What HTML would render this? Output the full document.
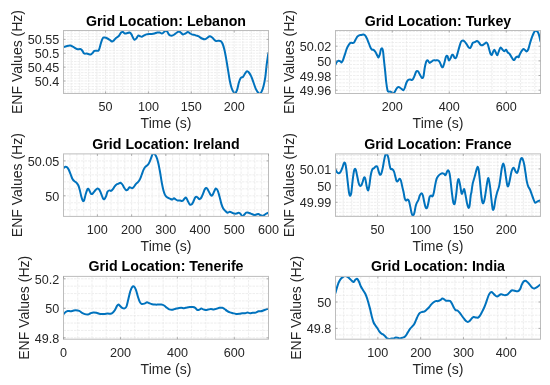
<!DOCTYPE html><html><head><meta charset="utf-8"><style>html,body{margin:0;padding:0;background:#fff;}svg{display:block;}text{font-family:"Liberation Sans",Arial,Helvetica,sans-serif;}</style></head><body>
<svg width="550" height="385" viewBox="0 0 550 385">
<rect width="550" height="385" fill="#fff"/>
<path d="M71.22 30.5V93.5M79.8 30.5V93.5M88.37 30.5V93.5M96.95 30.5V93.5M105.53 30.5V93.5M114.11 30.5V93.5M122.68 30.5V93.5M131.26 30.5V93.5M139.84 30.5V93.5M148.42 30.5V93.5M156.99 30.5V93.5M165.57 30.5V93.5M174.15 30.5V93.5M182.73 30.5V93.5M191.3 30.5V93.5M199.88 30.5V93.5M208.46 30.5V93.5M217.04 30.5V93.5M225.61 30.5V93.5M234.19 30.5V93.5M242.77 30.5V93.5M251.35 30.5V93.5M259.92 30.5V93.5M63.5 92.11H268.5M63.5 89.33H268.5M63.5 86.55H268.5M63.5 83.78H268.5M63.5 81H268.5M63.5 78.22H268.5M63.5 75.45H268.5M63.5 72.67H268.5M63.5 69.89H268.5M63.5 67.12H268.5M63.5 64.34H268.5M63.5 61.56H268.5M63.5 58.79H268.5M63.5 56.01H268.5M63.5 53.23H268.5M63.5 50.46H268.5M63.5 47.68H268.5M63.5 44.9H268.5M63.5 42.13H268.5M63.5 39.35H268.5M63.5 36.57H268.5M63.5 33.8H268.5M63.5 31.02H268.5" stroke="#e6e6e6" stroke-width="0.7" stroke-dasharray="2.5 1" fill="none"/>
<clipPath id="c0"><rect x="63.5" y="30.5" width="205.0" height="63.0"/></clipPath>
<path d="M63.8 47.1C64.25 46.95 65.43 46.45 66.5 46.2C67.57 45.95 69.13 45.52 70.2 45.6C71.27 45.68 72 46.23 72.9 46.7C73.8 47.17 74.83 47.97 75.6 48.4C76.37 48.83 76.73 49.18 77.5 49.3C78.27 49.42 79.45 48.95 80.2 49.1C80.95 49.25 81.33 49.47 82 50.2C82.67 50.93 83.45 52.95 84.2 53.5C84.95 54.05 85.8 53.42 86.5 53.5C87.2 53.58 87.7 53.85 88.4 54C89.1 54.15 90.02 54.55 90.7 54.4C91.38 54.25 91.88 53.68 92.5 53.1C93.12 52.52 93.73 51.3 94.4 50.9C95.07 50.5 95.83 50.73 96.5 50.7C97.17 50.67 97.88 51.15 98.4 50.7C98.92 50.25 99.15 49.37 99.6 48C100.05 46.63 100.55 44.17 101.1 42.5C101.65 40.83 102.3 38.82 102.9 38C103.5 37.18 103.93 37.52 104.7 37.6C105.47 37.68 106.68 38.13 107.5 38.5C108.32 38.87 108.85 39.28 109.6 39.8C110.35 40.32 111.3 41.5 112 41.6C112.7 41.7 113.2 40.93 113.8 40.4C114.4 39.87 114.98 38.95 115.6 38.4C116.22 37.85 116.88 37.62 117.5 37.1C118.12 36.58 118.7 36.07 119.3 35.3C119.9 34.53 120.5 33.05 121.1 32.5C121.7 31.95 122.3 31.83 122.9 32C123.5 32.17 123.93 33.32 124.7 33.5C125.47 33.68 126.68 33.27 127.5 33.1C128.32 32.93 128.93 32.28 129.6 32.5C130.27 32.72 130.98 33.63 131.5 34.4C132.02 35.17 132.2 36.2 132.7 37.1C133.2 38 133.88 39.58 134.5 39.8C135.12 40.02 135.78 39.1 136.4 38.4C137.02 37.7 137.6 35.97 138.2 35.6C138.8 35.23 139.4 36.02 140 36.2C140.6 36.38 141.2 36.8 141.8 36.7C142.4 36.6 142.83 35.98 143.6 35.6C144.37 35.22 145.48 34.67 146.4 34.4C147.32 34.13 148.2 34.07 149.1 34C150 33.93 150.9 34.08 151.8 34C152.7 33.92 153.58 33.75 154.5 33.5C155.42 33.25 156.45 32.67 157.3 32.5C158.15 32.33 158.85 32.33 159.6 32.5C160.35 32.67 161.13 33.5 161.8 33.5C162.47 33.5 162.98 32.97 163.6 32.5C164.22 32.03 164.88 30.85 165.5 30.7C166.12 30.55 166.8 31.08 167.3 31.6C167.8 32.12 168.05 33.18 168.5 33.8C168.95 34.42 169.38 35 170 35.3C170.62 35.6 171.45 35.75 172.2 35.6C172.95 35.45 173.72 34.92 174.5 34.4C175.28 33.88 176.13 32.97 176.9 32.5C177.67 32.03 178.37 31.5 179.1 31.6C179.83 31.7 180.63 32.63 181.3 33.1C181.97 33.57 182.4 34.33 183.1 34.4C183.8 34.47 184.72 33.9 185.5 33.5C186.28 33.1 187.12 32.07 187.8 32C188.48 31.93 188.93 32.7 189.6 33.1C190.27 33.5 190.98 34.1 191.8 34.4C192.62 34.7 193.73 34.7 194.5 34.9C195.27 35.1 195.78 35.38 196.4 35.6C197.02 35.82 197.63 35.95 198.2 36.2C198.77 36.45 199.17 36.72 199.8 37.1C200.43 37.48 201.15 38.13 202 38.5C202.85 38.87 204.05 39.38 204.9 39.3C205.75 39.22 206.28 38.52 207.1 38C207.92 37.48 208.95 36.28 209.8 36.2C210.65 36.12 211.43 36.9 212.2 37.5C212.97 38.1 213.73 39.2 214.4 39.8C215.07 40.4 215.53 40.95 216.2 41.1C216.87 41.25 217.65 40.7 218.4 40.7C219.15 40.7 220.02 40.63 220.7 41.1C221.38 41.57 221.88 42.05 222.5 43.5C223.12 44.95 223.78 47.23 224.4 49.8C225.02 52.37 225.6 55.57 226.2 58.9C226.8 62.23 227.4 66.17 228 69.8C228.6 73.43 229.2 77.67 229.8 80.7C230.4 83.73 230.98 86.12 231.6 88C232.22 89.88 232.88 91.18 233.5 92C234.12 92.82 234.7 93.27 235.3 92.9C235.9 92.53 236.5 91.53 237.1 89.8C237.7 88.07 238.3 84.47 238.9 82.5C239.5 80.53 240 78.97 240.7 78C241.4 77.03 242.33 77.52 243.1 76.7C243.87 75.88 244.63 74 245.3 73.1C245.97 72.2 246.5 71.4 247.1 71.3C247.7 71.2 248.23 71.68 248.9 72.5C249.57 73.32 250.33 74.53 251.1 76.2C251.87 77.87 252.72 80.38 253.5 82.5C254.28 84.62 255.05 87.23 255.8 88.9C256.55 90.57 257.33 91.68 258 92.5C258.67 93.32 259.2 93.95 259.8 93.8C260.4 93.65 260.98 92.87 261.6 91.6C262.22 90.33 262.88 88.62 263.5 86.2C264.12 83.78 264.77 80.73 265.3 77.1C265.83 73.47 266.18 68.42 266.7 64.4C267.22 60.38 268.12 54.9 268.4 53" stroke="#0072bd" stroke-width="2.0" fill="none" stroke-linejoin="round" stroke-linecap="round" clip-path="url(#c0)"/>
<rect x="63.5" y="30.5" width="205.0" height="63.0" fill="none" stroke="#bdbdbd" stroke-width="1"/>
<path d="M105.53 93.5v-2M105.53 30.5v2M148.42 93.5v-2M148.42 30.5v2M191.3 93.5v-2M191.3 30.5v2M234.19 93.5v-2M234.19 30.5v2M63.5 81h2M268.5 81h-2M63.5 67.12h2M268.5 67.12h-2M63.5 53.23h2M268.5 53.23h-2M63.5 39.35h2M268.5 39.35h-2" stroke="#9a9a9a" stroke-width="0.8" fill="none"/>
<text x="105.53" y="110.8" font-size="12.6" fill="#262626" text-anchor="middle">50</text>
<text x="148.42" y="110.8" font-size="12.6" fill="#262626" text-anchor="middle">100</text>
<text x="191.3" y="110.8" font-size="12.6" fill="#262626" text-anchor="middle">150</text>
<text x="234.19" y="110.8" font-size="12.6" fill="#262626" text-anchor="middle">200</text>
<text x="59.2" y="86.05" font-size="12.6" fill="#262626" text-anchor="end">50.4</text>
<text x="59.2" y="72.17" font-size="12.6" fill="#262626" text-anchor="end">50.45</text>
<text x="59.2" y="58.28" font-size="12.6" fill="#262626" text-anchor="end">50.5</text>
<text x="59.2" y="44.4" font-size="12.6" fill="#262626" text-anchor="end">50.55</text>
<text x="166" y="25.55" font-size="14.2" font-weight="bold" fill="#000" text-anchor="middle">Grid Location: Lebanon</text>
<text x="166" y="128.4" font-size="14.0" fill="#262626" text-anchor="middle">Time (s)</text>
<text transform="translate(21.6,62) rotate(-90)" x="0" y="0" font-size="14.0" fill="#262626" text-anchor="middle">ENF Values (Hz)</text>
<path d="M349.47 30.5V93.5M363.73 30.5V93.5M377.98 30.5V93.5M392.24 30.5V93.5M406.49 30.5V93.5M420.75 30.5V93.5M435.01 30.5V93.5M449.26 30.5V93.5M463.52 30.5V93.5M477.77 30.5V93.5M492.03 30.5V93.5M506.29 30.5V93.5M520.54 30.5V93.5M534.8 30.5V93.5M335.5 90.2H540.5M335.5 86.53H540.5M335.5 82.87H540.5M335.5 79.2H540.5M335.5 75.53H540.5M335.5 71.87H540.5M335.5 68.2H540.5M335.5 64.53H540.5M335.5 60.87H540.5M335.5 57.2H540.5M335.5 53.53H540.5M335.5 49.87H540.5M335.5 46.2H540.5M335.5 42.53H540.5M335.5 38.87H540.5M335.5 35.2H540.5M335.5 31.53H540.5" stroke="#e6e6e6" stroke-width="0.7" stroke-dasharray="2.5 1" fill="none"/>
<clipPath id="c1"><rect x="335.5" y="30.5" width="205.0" height="63.0"/></clipPath>
<path d="M335.5 64.4C335.7 64.03 336.2 62.82 336.7 62.2C337.2 61.58 337.88 60.85 338.5 60.7C339.12 60.55 339.88 61 340.4 61.3C340.92 61.6 341.15 62.75 341.6 62.5C342.05 62.25 342.55 61.15 343.1 59.8C343.65 58.45 344.3 56.22 344.9 54.4C345.5 52.58 346.1 50.42 346.7 48.9C347.3 47.38 347.88 46.3 348.5 45.3C349.12 44.3 349.78 43.3 350.4 42.9C351.02 42.5 351.6 42.97 352.2 42.9C352.8 42.83 353.45 43.02 354 42.5C354.55 41.98 354.95 40.77 355.5 39.8C356.05 38.83 356.7 37.45 357.3 36.7C357.9 35.95 358.43 35.6 359.1 35.3C359.77 35 360.57 35.03 361.3 34.9C362.03 34.77 362.83 34.38 363.5 34.5C364.17 34.62 364.7 34.87 365.3 35.6C365.9 36.33 366.5 37.58 367.1 38.9C367.7 40.22 368.3 41.98 368.9 43.5C369.5 45.02 370.15 46.95 370.7 48C371.25 49.05 371.72 49.5 372.2 49.8C372.68 50.1 373.05 49.43 373.6 49.8C374.15 50.17 374.88 51.03 375.5 52C376.12 52.97 376.8 54.68 377.3 55.6C377.8 56.52 378.08 57.7 378.5 57.5C378.92 57.3 379.4 55.73 379.8 54.4C380.2 53.07 380.5 50.5 380.9 49.5C381.3 48.5 381.83 48.05 382.2 48.4C382.57 48.75 382.8 49.55 383.1 51.6C383.4 53.65 383.65 57.37 384 60.7C384.35 64.03 384.83 68.05 385.2 71.6C385.57 75.15 385.82 78.88 386.2 82C386.58 85.12 387.12 88.7 387.5 90.3C387.88 91.9 388.02 91.38 388.5 91.6C388.98 91.82 389.85 91.45 390.4 91.6C390.95 91.75 391.35 92.13 391.8 92.5C392.25 92.87 392.58 93.95 393.1 93.8C393.62 93.65 394.3 92.5 394.9 91.6C395.5 90.7 396.1 89.15 396.7 88.4C397.3 87.65 397.88 87.17 398.5 87.1C399.12 87.03 399.78 87.6 400.4 88C401.02 88.4 401.68 89.13 402.2 89.5C402.72 89.87 403.08 90.45 403.5 90.2C403.92 89.95 404.2 89.28 404.7 88C405.2 86.72 405.88 83.87 406.5 82.5C407.12 81.13 407.78 80.3 408.4 79.8C409.02 79.3 409.52 79.5 410.2 79.5C410.88 79.5 411.8 80.35 412.5 79.8C413.2 79.25 413.78 77.57 414.4 76.2C415.02 74.83 415.6 72.42 416.2 71.6C416.8 70.78 417.4 70.83 418 71.3C418.6 71.77 419.13 73.28 419.8 74.4C420.47 75.52 421.38 77.7 422 78C422.62 78.3 423.05 77.87 423.5 76.2C423.95 74.53 424.25 70.43 424.7 68C425.15 65.57 425.68 62.87 426.2 61.6C426.72 60.33 427.23 60.18 427.8 60.4C428.37 60.62 428.98 62.7 429.6 62.9C430.22 63.1 430.88 62.02 431.5 61.6C432.12 61.18 432.62 60.6 433.3 60.4C433.98 60.2 434.82 60.4 435.6 60.4C436.38 60.4 437.3 60.1 438 60.4C438.7 60.7 439.2 61.18 439.8 62.2C440.4 63.22 441.08 65.68 441.6 66.5C442.12 67.32 442.47 67.6 442.9 67.1C443.33 66.6 443.68 65.23 444.2 63.5C444.72 61.77 445.45 57.92 446 56.7C446.55 55.48 447.02 55.58 447.5 56.2C447.98 56.82 448.37 60.1 448.9 60.4C449.43 60.7 450.18 58.92 450.7 58C451.22 57.08 451.57 55.35 452 54.9C452.43 54.45 452.85 54.78 453.3 55.3C453.75 55.82 454.22 57.63 454.7 58C455.18 58.37 455.72 58.32 456.2 57.5C456.68 56.68 457.08 54.83 457.6 53.1C458.12 51.37 458.72 49.02 459.3 47.1C459.88 45.18 460.5 42.72 461.1 41.6C461.7 40.48 462.3 40.4 462.9 40.4C463.5 40.4 464.1 41 464.7 41.6C465.3 42.2 465.88 43.08 466.5 44C467.12 44.92 467.78 46.43 468.4 47.1C469.02 47.77 469.68 48.22 470.2 48C470.72 47.78 471.08 46.65 471.5 45.8C471.92 44.95 472.2 43.5 472.7 42.9C473.2 42.3 473.8 42.5 474.5 42.2C475.2 41.9 476.2 41.1 476.9 41.1C477.6 41.1 478.1 41.6 478.7 42.2C479.3 42.8 479.88 44.18 480.5 44.7C481.12 45.22 481.78 45.42 482.4 45.3C483.02 45.18 483.53 44.47 484.2 44C484.87 43.53 485.8 42.43 486.4 42.5C487 42.57 487.35 43.33 487.8 44.4C488.25 45.47 488.67 47.38 489.1 48.9C489.53 50.42 489.95 52.5 490.4 53.5C490.85 54.5 491.32 55.27 491.8 54.9C492.28 54.53 492.85 52.15 493.3 51.3C493.75 50.45 494.08 49.6 494.5 49.8C494.92 50 495.33 51.58 495.8 52.5C496.27 53.42 496.82 55.45 497.3 55.3C497.78 55.15 498.17 52.88 498.7 51.6C499.23 50.32 499.88 47.95 500.5 47.6C501.12 47.25 501.78 48.88 502.4 49.5C503.02 50.12 503.6 51.25 504.2 51.3C504.8 51.35 505.4 49.6 506 49.8C506.6 50 507.2 51.83 507.8 52.5C508.4 53.17 508.98 53.03 509.6 53.8C510.22 54.57 510.88 56.1 511.5 57.1C512.12 58.1 512.8 59.35 513.3 59.8C513.8 60.25 514.08 60.18 514.5 59.8C514.92 59.42 515.33 58.07 515.8 57.5C516.27 56.93 516.82 56.43 517.3 56.4C517.78 56.37 518.4 57.38 518.7 57.3C519 57.22 518.73 56.73 519.1 55.9C519.47 55.07 520.22 53.43 520.9 52.3C521.58 51.17 522.52 49.48 523.2 49.1C523.88 48.72 524.47 49.62 525 50C525.53 50.38 525.87 51.48 526.4 51.4C526.93 51.32 527.6 50.87 528.2 49.5C528.8 48.13 529.4 45.17 530 43.2C530.6 41.23 531.2 39.37 531.8 37.7C532.4 36.03 533.03 34.33 533.6 33.2C534.17 32.07 534.67 31.23 535.2 30.9C535.73 30.57 536.3 30.9 536.8 31.2C537.3 31.5 537.77 31.83 538.2 32.7C538.63 33.57 539.02 34.95 539.4 36.4C539.78 37.85 540.32 40.57 540.5 41.4" stroke="#0072bd" stroke-width="2.0" fill="none" stroke-linejoin="round" stroke-linecap="round" clip-path="url(#c1)"/>
<rect x="335.5" y="30.5" width="205.0" height="63.0" fill="none" stroke="#bdbdbd" stroke-width="1"/>
<path d="M392.24 93.5v-2M392.24 30.5v2M449.26 93.5v-2M449.26 30.5v2M506.29 93.5v-2M506.29 30.5v2M335.5 90.2h2M540.5 90.2h-2M335.5 75.53h2M540.5 75.53h-2M335.5 60.87h2M540.5 60.87h-2M335.5 46.2h2M540.5 46.2h-2" stroke="#9a9a9a" stroke-width="0.8" fill="none"/>
<text x="392.24" y="110.8" font-size="12.6" fill="#262626" text-anchor="middle">200</text>
<text x="449.26" y="110.8" font-size="12.6" fill="#262626" text-anchor="middle">400</text>
<text x="506.29" y="110.8" font-size="12.6" fill="#262626" text-anchor="middle">600</text>
<text x="331.2" y="95.25" font-size="12.6" fill="#262626" text-anchor="end">49.96</text>
<text x="331.2" y="80.58" font-size="12.6" fill="#262626" text-anchor="end">49.98</text>
<text x="331.2" y="65.92" font-size="12.6" fill="#262626" text-anchor="end">50</text>
<text x="331.2" y="51.25" font-size="12.6" fill="#262626" text-anchor="end">50.02</text>
<text x="438" y="25.55" font-size="14.2" font-weight="bold" fill="#000" text-anchor="middle">Grid Location: Turkey</text>
<text x="438" y="128.4" font-size="14.0" fill="#262626" text-anchor="middle">Time (s)</text>
<text transform="translate(293.6,62) rotate(-90)" x="0" y="0" font-size="14.0" fill="#262626" text-anchor="middle">ENF Values (Hz)</text>
<path d="M70 153.9V216.4M76.85 153.9V216.4M83.69 153.9V216.4M90.54 153.9V216.4M97.38 153.9V216.4M104.23 153.9V216.4M111.07 153.9V216.4M117.92 153.9V216.4M124.76 153.9V216.4M131.61 153.9V216.4M138.45 153.9V216.4M145.29 153.9V216.4M152.14 153.9V216.4M158.98 153.9V216.4M165.83 153.9V216.4M172.67 153.9V216.4M179.52 153.9V216.4M186.36 153.9V216.4M193.21 153.9V216.4M200.05 153.9V216.4M206.9 153.9V216.4M213.74 153.9V216.4M220.59 153.9V216.4M227.43 153.9V216.4M234.28 153.9V216.4M241.12 153.9V216.4M247.97 153.9V216.4M254.81 153.9V216.4M261.66 153.9V216.4M63.5 209.76H268.5M63.5 202.78H268.5M63.5 195.8H268.5M63.5 188.82H268.5M63.5 181.84H268.5M63.5 174.86H268.5M63.5 167.88H268.5M63.5 160.9H268.5" stroke="#e6e6e6" stroke-width="0.7" stroke-dasharray="2.5 1" fill="none"/>
<clipPath id="c2"><rect x="63.5" y="153.9" width="205.0" height="62.5"/></clipPath>
<path d="M63.5 168.2C63.8 167.95 64.7 166.85 65.3 166.7C65.9 166.55 66.5 166.75 67.1 167.3C67.7 167.85 68.3 168.8 68.9 170C69.5 171.2 70.1 172.98 70.7 174.5C71.3 176.02 71.88 177.97 72.5 179.1C73.12 180.23 73.73 180.7 74.4 181.3C75.07 181.9 75.83 182 76.5 182.7C77.17 183.4 77.85 184.28 78.4 185.5C78.95 186.72 79.32 188.18 79.8 190C80.28 191.82 80.78 194.58 81.3 196.4C81.82 198.22 82.42 200.3 82.9 200.9C83.38 201.5 83.75 201.07 84.2 200C84.65 198.93 85.05 196.32 85.6 194.5C86.15 192.68 86.95 189.92 87.5 189.1C88.05 188.28 88.37 188.9 88.9 189.6C89.43 190.3 90.15 192.57 90.7 193.3C91.25 194.03 91.68 194.18 92.2 194C92.72 193.82 93.23 192.87 93.8 192.2C94.37 191.53 94.98 190.62 95.6 190C96.22 189.38 96.88 188.57 97.5 188.5C98.12 188.43 98.7 188.75 99.3 189.6C99.9 190.45 100.5 192.17 101.1 193.6C101.7 195.03 102.35 197.28 102.9 198.2C103.45 199.12 103.88 199.4 104.4 199.1C104.92 198.8 105.48 197.62 106 196.4C106.52 195.18 106.95 192.8 107.5 191.8C108.05 190.8 108.7 190.55 109.3 190.4C109.9 190.25 110.5 191.12 111.1 190.9C111.7 190.68 112.3 189.85 112.9 189.1C113.5 188.35 114.1 187.17 114.7 186.4C115.3 185.63 115.83 184.97 116.5 184.5C117.17 184.03 118.03 183.9 118.7 183.6C119.37 183.3 119.88 182.55 120.5 182.7C121.12 182.85 121.78 183.65 122.4 184.5C123.02 185.35 123.6 186.88 124.2 187.8C124.8 188.72 125.4 189.7 126 190C126.6 190.3 127.2 190.05 127.8 189.6C128.4 189.15 128.87 187.53 129.6 187.3C130.33 187.07 131.47 188.3 132.2 188.2C132.93 188.1 133.4 187.37 134 186.7C134.6 186.03 135.1 185.02 135.8 184.2C136.5 183.38 137.5 182.65 138.2 181.8C138.9 180.95 139.4 180.32 140 179.1C140.6 177.88 141.2 176.08 141.8 174.5C142.4 172.92 142.98 170.9 143.6 169.6C144.22 168.3 144.8 167.48 145.5 166.7C146.2 165.92 147.12 165.72 147.8 164.9C148.48 164.08 148.98 163.13 149.6 161.8C150.22 160.47 150.98 158.2 151.5 156.9C152.02 155.6 152.2 154.48 152.7 154C153.2 153.52 153.88 153.52 154.5 154C155.12 154.48 155.78 155.45 156.4 156.9C157.02 158.35 157.6 160.22 158.2 162.7C158.8 165.18 159.4 168.47 160 171.8C160.6 175.13 161.2 179.52 161.8 182.7C162.4 185.88 162.98 188.72 163.6 190.9C164.22 193.08 164.8 194.68 165.5 195.8C166.2 196.92 167.05 197.12 167.8 197.6C168.55 198.08 169.27 198.38 170 198.7C170.73 199.02 171.53 199.58 172.2 199.5C172.87 199.42 173.4 198.2 174 198.2C174.6 198.2 175.2 199.12 175.8 199.5C176.4 199.88 176.9 200.33 177.6 200.5C178.3 200.67 179.2 200.43 180 200.5C180.8 200.57 181.7 201.13 182.4 200.9C183.1 200.67 183.6 199.65 184.2 199.1C184.8 198.55 185.4 197.3 186 197.6C186.6 197.9 187.2 199.8 187.8 200.9C188.4 202 188.98 203.6 189.6 204.2C190.22 204.8 190.88 204.9 191.5 204.5C192.12 204.1 192.7 202.95 193.3 201.8C193.9 200.65 194.5 198.42 195.1 197.6C195.7 196.78 196.33 196.75 196.9 196.9C197.47 197.05 198.07 198.13 198.5 198.5C198.93 198.87 199.03 199.25 199.5 199.1C199.97 198.95 200.7 198.52 201.3 197.6C201.9 196.68 202.5 195.02 203.1 193.6C203.7 192.18 204.3 190 204.9 189.1C205.5 188.2 206.1 187.9 206.7 188.2C207.3 188.5 207.88 189.85 208.5 190.9C209.12 191.95 209.78 193.73 210.4 194.5C211.02 195.27 211.6 195.95 212.2 195.5C212.8 195.05 213.4 192.97 214 191.8C214.6 190.63 215.2 188.73 215.8 188.5C216.4 188.27 216.98 189.08 217.6 190.4C218.22 191.72 218.88 194.2 219.5 196.4C220.12 198.6 220.7 201.63 221.3 203.6C221.9 205.57 222.43 206.98 223.1 208.2C223.77 209.42 224.57 210.15 225.3 210.9C226.03 211.65 226.75 212.55 227.5 212.7C228.25 212.85 229.02 211.8 229.8 211.8C230.58 211.8 231.43 212.4 232.2 212.7C232.97 213 233.68 213.45 234.4 213.6C235.12 213.75 235.83 213.75 236.5 213.6C237.17 213.45 237.78 212.7 238.4 212.7C239.02 212.7 239.52 212.98 240.2 213.6C240.88 214.22 241.8 216.25 242.5 216.4C243.2 216.55 243.78 215.12 244.4 214.5C245.02 213.88 245.52 213 246.2 212.7C246.88 212.4 247.75 212.55 248.5 212.7C249.25 212.85 249.97 213.3 250.7 213.6C251.43 213.9 252.23 214.25 252.9 214.5C253.57 214.75 254.1 215.1 254.7 215.1C255.3 215.1 255.88 214.68 256.5 214.5C257.12 214.32 257.78 213.9 258.4 214C259.02 214.1 259.6 214.8 260.2 215.1C260.8 215.4 261.4 215.73 262 215.8C262.6 215.87 263.2 215.8 263.8 215.5C264.4 215.2 264.83 214.47 265.6 214C266.37 213.53 267.93 212.92 268.4 212.7" stroke="#0072bd" stroke-width="2.0" fill="none" stroke-linejoin="round" stroke-linecap="round" clip-path="url(#c2)"/>
<rect x="63.5" y="153.9" width="205.0" height="62.5" fill="none" stroke="#bdbdbd" stroke-width="1"/>
<path d="M97.38 216.4v-2M97.38 153.9v2M131.61 216.4v-2M131.61 153.9v2M165.83 216.4v-2M165.83 153.9v2M200.05 216.4v-2M200.05 153.9v2M234.28 216.4v-2M234.28 153.9v2M268.5 216.4v-2M268.5 153.9v2M63.5 195.8h2M268.5 195.8h-2M63.5 160.9h2M268.5 160.9h-2" stroke="#9a9a9a" stroke-width="0.8" fill="none"/>
<text x="97.38" y="233.7" font-size="12.6" fill="#262626" text-anchor="middle">100</text>
<text x="131.61" y="233.7" font-size="12.6" fill="#262626" text-anchor="middle">200</text>
<text x="165.83" y="233.7" font-size="12.6" fill="#262626" text-anchor="middle">300</text>
<text x="200.05" y="233.7" font-size="12.6" fill="#262626" text-anchor="middle">400</text>
<text x="234.28" y="233.7" font-size="12.6" fill="#262626" text-anchor="middle">500</text>
<text x="268.5" y="233.7" font-size="12.6" fill="#262626" text-anchor="middle">600</text>
<text x="59.2" y="200.85" font-size="12.6" fill="#262626" text-anchor="end">50</text>
<text x="59.2" y="165.95" font-size="12.6" fill="#262626" text-anchor="end">50.05</text>
<text x="166" y="148.95" font-size="14.2" font-weight="bold" fill="#000" text-anchor="middle">Grid Location: Ireland</text>
<text x="166" y="251.3" font-size="14.0" fill="#262626" text-anchor="middle">Time (s)</text>
<text transform="translate(21.6,185.15) rotate(-90)" x="0" y="0" font-size="14.0" fill="#262626" text-anchor="middle">ENF Values (Hz)</text>
<path d="M343.22 153.9V216.4M351.8 153.9V216.4M360.37 153.9V216.4M368.95 153.9V216.4M377.53 153.9V216.4M386.11 153.9V216.4M394.68 153.9V216.4M403.26 153.9V216.4M411.84 153.9V216.4M420.42 153.9V216.4M428.99 153.9V216.4M437.57 153.9V216.4M446.15 153.9V216.4M454.73 153.9V216.4M463.3 153.9V216.4M471.88 153.9V216.4M480.46 153.9V216.4M489.04 153.9V216.4M497.61 153.9V216.4M506.19 153.9V216.4M514.77 153.9V216.4M523.35 153.9V216.4M531.92 153.9V216.4M335.5 215.66H540.5M335.5 212.32H540.5M335.5 208.98H540.5M335.5 205.64H540.5M335.5 202.3H540.5M335.5 198.96H540.5M335.5 195.62H540.5M335.5 192.28H540.5M335.5 188.94H540.5M335.5 185.6H540.5M335.5 182.26H540.5M335.5 178.92H540.5M335.5 175.58H540.5M335.5 172.24H540.5M335.5 168.9H540.5M335.5 165.56H540.5M335.5 162.22H540.5M335.5 158.88H540.5M335.5 155.54H540.5" stroke="#e6e6e6" stroke-width="0.7" stroke-dasharray="2.5 1" fill="none"/>
<clipPath id="c3"><rect x="335.5" y="153.9" width="205.0" height="62.5"/></clipPath>
<path d="M335.5 169.6C335.7 169.97 336.2 171.18 336.7 171.8C337.2 172.42 337.88 173.23 338.5 173.3C339.12 173.37 339.78 173.05 340.4 172.2C341.02 171.35 341.6 169.72 342.2 168.2C342.8 166.68 343.48 163.87 344 163.1C344.52 162.33 344.9 162.45 345.3 163.6C345.7 164.75 346.02 167.12 346.4 170C346.78 172.88 347.18 177.27 347.6 180.9C348.02 184.53 348.5 189.32 348.9 191.8C349.3 194.28 349.6 195.65 350 195.8C350.4 195.95 350.88 195.03 351.3 192.7C351.72 190.37 352.05 185.43 352.5 181.8C352.95 178.17 353.5 173.02 354 170.9C354.5 168.78 355.05 168.65 355.5 169.1C355.95 169.55 356.2 171.38 356.7 173.6C357.2 175.82 357.98 180.42 358.5 182.4C359.02 184.38 359.33 184.98 359.8 185.5C360.27 186.02 360.82 186.12 361.3 185.5C361.78 184.88 362.25 183.12 362.7 181.8C363.15 180.48 363.57 178.12 364 177.6C364.43 177.08 364.85 177.23 365.3 178.7C365.75 180.17 366.22 184.45 366.7 186.4C367.18 188.35 367.73 190.72 368.2 190.4C368.67 190.08 369.08 186.98 369.5 184.5C369.92 182.02 370.25 177.98 370.7 175.5C371.15 173.02 371.65 170.82 372.2 169.6C372.75 168.38 373.4 168.73 374 168.2C374.6 167.67 375.25 166.65 375.8 166.4C376.35 166.15 376.85 165.95 377.3 166.7C377.75 167.45 378.08 169.6 378.5 170.9C378.92 172.2 379.33 174.05 379.8 174.5C380.27 174.95 380.82 174.65 381.3 173.6C381.78 172.55 382.25 170.32 382.7 168.2C383.15 166.08 383.57 163.08 384 160.9C384.43 158.72 384.85 156.25 385.3 155.1C385.75 153.95 386.22 153.63 386.7 154C387.18 154.37 387.73 155.55 388.2 157.3C388.67 159.05 389.08 162.53 389.5 164.5C389.92 166.47 390.25 168.33 390.7 169.1C391.15 169.87 391.65 168.7 392.2 169.1C392.75 169.5 393.45 170.13 394 171.5C394.55 172.87 395.05 175.67 395.5 177.3C395.95 178.93 396.28 180.7 396.7 181.3C397.12 181.9 397.53 181.33 398 180.9C398.47 180.47 399.02 178.77 399.5 178.7C399.98 178.63 400.45 179.22 400.9 180.5C401.35 181.78 401.77 184.52 402.2 186.4C402.63 188.28 403.08 189.83 403.5 191.8C403.92 193.77 404.28 196.75 404.7 198.2C405.12 199.65 405.53 200.28 406 200.5C406.47 200.72 407.02 199.43 407.5 199.5C407.98 199.57 408.45 199.75 408.9 200.9C409.35 202.05 409.77 204.43 410.2 206.4C410.63 208.37 411.05 211.13 411.5 212.7C411.95 214.27 412.42 215.8 412.9 215.8C413.38 215.8 413.95 214.27 414.4 212.7C414.85 211.13 415.18 208.07 415.6 206.4C416.02 204.73 416.43 203.77 416.9 202.7C417.37 201.63 417.92 201.2 418.4 200C418.88 198.8 419.27 196.62 419.8 195.5C420.33 194.38 421.08 193.3 421.6 193.3C422.12 193.3 422.47 194.08 422.9 195.5C423.33 196.92 423.75 199.83 424.2 201.8C424.65 203.77 425.12 206.3 425.6 207.3C426.08 208.3 426.63 208.57 427.1 207.8C427.57 207.03 427.98 204.52 428.4 202.7C428.82 200.88 429.15 198.1 429.6 196.9C430.05 195.7 430.62 195.58 431.1 195.5C431.58 195.42 432.05 196.87 432.5 196.4C432.95 195.93 433.37 194.52 433.8 192.7C434.23 190.88 434.65 187.77 435.1 185.5C435.55 183.23 435.95 180.72 436.5 179.1C437.05 177.48 437.73 176.65 438.4 175.8C439.07 174.95 439.83 174.42 440.5 174C441.17 173.58 441.78 173.3 442.4 173.3C443.02 173.3 443.67 173.7 444.2 174C444.73 174.3 445.12 175.52 445.6 175.1C446.08 174.68 446.63 172.28 447.1 171.5C447.57 170.72 447.98 170.05 448.4 170.4C448.82 170.75 449.22 171.7 449.6 173.6C449.98 175.5 450.3 178.47 450.7 181.8C451.1 185.13 451.57 190.17 452 193.6C452.43 197.03 452.85 200.73 453.3 202.4C453.75 204.07 454.22 204.92 454.7 203.6C455.18 202.28 455.73 197.98 456.2 194.5C456.67 191.02 457.08 185.27 457.5 182.7C457.92 180.13 458.25 178.63 458.7 179.1C459.15 179.57 459.72 183.08 460.2 185.5C460.68 187.92 461.15 192.55 461.6 193.6C462.05 194.65 462.47 192.55 462.9 191.8C463.33 191.05 463.75 188.48 464.2 189.1C464.65 189.72 465.12 193.08 465.6 195.5C466.08 197.92 466.63 201.55 467.1 203.6C467.57 205.65 467.98 207.48 468.4 207.8C468.82 208.12 469.22 207.55 469.6 205.5C469.98 203.45 470.38 197.78 470.7 195.5C471.02 193.22 471.17 193.78 471.5 191.8C471.83 189.82 472.2 186.02 472.7 183.6C473.2 181.18 473.88 179.57 474.5 177.3C475.12 175.03 475.88 171.77 476.4 170C476.92 168.23 477.22 166.7 477.6 166.7C477.98 166.7 478.3 167.48 478.7 170C479.1 172.52 479.57 177.55 480 181.8C480.43 186.05 480.85 191.95 481.3 195.5C481.75 199.05 482.22 202.2 482.7 203.1C483.18 204 483.73 202.48 484.2 200.9C484.67 199.32 484.98 196.78 485.5 193.6C486.02 190.42 486.8 184.37 487.3 181.8C487.8 179.23 488.05 177.43 488.5 178.2C488.95 178.97 489.5 182.77 490 186.4C490.5 190.03 491.05 196.22 491.5 200C491.95 203.78 492.28 207.73 492.7 209.1C493.12 210.47 493.53 209.87 494 208.2C494.47 206.53 494.95 201.83 495.5 199.1C496.05 196.37 496.7 193.92 497.3 191.8C497.9 189.68 498.57 188.82 499.1 186.4C499.63 183.98 500.05 180.33 500.5 177.3C500.95 174.27 501.37 170.48 501.8 168.2C502.23 165.92 502.65 163.75 503.1 163.6C503.55 163.45 504.02 165.02 504.5 167.3C504.98 169.58 505.53 174.27 506 177.3C506.47 180.33 506.88 184.13 507.3 185.5C507.72 186.87 508.05 186.57 508.5 185.5C508.95 184.43 509.5 181.43 510 179.1C510.5 176.77 510.95 173.38 511.5 171.5C512.05 169.62 512.8 168.2 513.3 167.8C513.8 167.4 514.08 168.43 514.5 169.1C514.92 169.77 515.33 171.2 515.8 171.8C516.27 172.4 516.82 173.3 517.3 172.7C517.78 172.1 518.25 170.02 518.7 168.2C519.15 166.38 519.57 163.47 520 161.8C520.43 160.13 520.85 158.65 521.3 158.2C521.75 157.75 522.22 158.05 522.7 159.1C523.18 160.15 523.73 162.23 524.2 164.5C524.67 166.77 525.08 169.97 525.5 172.7C525.92 175.43 526.25 178.62 526.7 180.9C527.15 183.18 527.65 184.95 528.2 186.4C528.75 187.85 529.4 188.25 530 189.6C530.6 190.95 531.2 192.85 531.8 194.5C532.4 196.15 533.05 198.13 533.6 199.5C534.15 200.87 534.55 202.32 535.1 202.7C535.65 203.08 536.3 202.1 536.9 201.8C537.5 201.5 538.1 201.12 538.7 200.9C539.3 200.68 540.2 200.57 540.5 200.5" stroke="#0072bd" stroke-width="2.0" fill="none" stroke-linejoin="round" stroke-linecap="round" clip-path="url(#c3)"/>
<rect x="335.5" y="153.9" width="205.0" height="62.5" fill="none" stroke="#bdbdbd" stroke-width="1"/>
<path d="M377.53 216.4v-2M377.53 153.9v2M420.42 216.4v-2M420.42 153.9v2M463.3 216.4v-2M463.3 153.9v2M506.19 216.4v-2M506.19 153.9v2M335.5 202.3h2M540.5 202.3h-2M335.5 185.6h2M540.5 185.6h-2M335.5 168.9h2M540.5 168.9h-2" stroke="#9a9a9a" stroke-width="0.8" fill="none"/>
<text x="377.53" y="233.7" font-size="12.6" fill="#262626" text-anchor="middle">50</text>
<text x="420.42" y="233.7" font-size="12.6" fill="#262626" text-anchor="middle">100</text>
<text x="463.3" y="233.7" font-size="12.6" fill="#262626" text-anchor="middle">150</text>
<text x="506.19" y="233.7" font-size="12.6" fill="#262626" text-anchor="middle">200</text>
<text x="331.2" y="207.35" font-size="12.6" fill="#262626" text-anchor="end">49.99</text>
<text x="331.2" y="190.65" font-size="12.6" fill="#262626" text-anchor="end">50</text>
<text x="331.2" y="173.95" font-size="12.6" fill="#262626" text-anchor="end">50.01</text>
<text x="438" y="148.95" font-size="14.2" font-weight="bold" fill="#000" text-anchor="middle">Grid Location: France</text>
<text x="438" y="251.3" font-size="14.0" fill="#262626" text-anchor="middle">Time (s)</text>
<text transform="translate(293.6,185.15) rotate(-90)" x="0" y="0" font-size="14.0" fill="#262626" text-anchor="middle">ENF Values (Hz)</text>
<path d="M77.74 276.4V339.2M91.97 276.4V339.2M106.21 276.4V339.2M120.44 276.4V339.2M134.68 276.4V339.2M148.92 276.4V339.2M163.15 276.4V339.2M177.39 276.4V339.2M191.62 276.4V339.2M205.86 276.4V339.2M220.1 276.4V339.2M234.33 276.4V339.2M248.57 276.4V339.2M262.81 276.4V339.2M63.5 337.8H268.5M63.5 330.42H268.5M63.5 323.05H268.5M63.5 315.67H268.5M63.5 308.3H268.5M63.5 300.92H268.5M63.5 293.55H268.5M63.5 286.17H268.5M63.5 278.8H268.5" stroke="#e6e6e6" stroke-width="0.7" stroke-dasharray="2.5 1" fill="none"/>
<clipPath id="c4"><rect x="63.5" y="276.4" width="205.0" height="62.80000000000001"/></clipPath>
<path d="M63.5 314.1C63.82 313.78 64.7 312.73 65.4 312.2C66.1 311.67 66.83 311.05 67.7 310.9C68.57 310.75 69.7 311.33 70.6 311.3C71.5 311.27 72.25 310.87 73.1 310.7C73.95 310.53 74.68 310.27 75.7 310.3C76.72 310.33 78.15 310.48 79.2 310.9C80.25 311.32 81.05 312.27 82 312.8C82.95 313.33 83.93 313.82 84.9 314.1C85.87 314.38 86.85 314.65 87.8 314.5C88.75 314.35 89.65 313.55 90.6 313.2C91.55 312.85 92.53 312.47 93.5 312.4C94.47 312.33 95.45 312.57 96.4 312.8C97.35 313.03 98.25 313.58 99.2 313.8C100.15 314.02 101.15 314.08 102.1 314.1C103.05 314.12 103.95 313.98 104.9 313.9C105.85 313.82 106.83 313.62 107.8 313.6C108.77 313.58 109.8 314.03 110.7 313.8C111.6 313.57 112.47 312.88 113.2 312.2C113.93 311.52 114.47 310.75 115.1 309.7C115.73 308.65 116.43 306.75 117 305.9C117.57 305.05 117.97 304.57 118.5 304.6C119.03 304.63 119.6 305.57 120.2 306.1C120.8 306.63 121.37 307.42 122.1 307.8C122.83 308.18 123.87 308.62 124.6 308.4C125.33 308.18 125.87 308.08 126.5 306.5C127.13 304.92 127.77 301.45 128.4 298.9C129.03 296.35 129.65 293.22 130.3 291.2C130.95 289.18 131.65 287.53 132.3 286.8C132.95 286.07 133.57 286.22 134.2 286.8C134.83 287.38 135.47 288.6 136.1 290.3C136.73 292 137.37 295.03 138 297C138.63 298.97 139.27 300.93 139.9 302.1C140.53 303.27 141.03 303.75 141.8 304C142.57 304.25 143.63 303.88 144.5 303.6C145.37 303.32 146.18 302.35 147 302.3C147.82 302.25 148.55 302.98 149.4 303.3C150.25 303.62 151.13 303.98 152.1 304.2C153.07 304.42 154.15 304.53 155.2 304.6C156.25 304.67 157.38 304.6 158.4 304.6C159.42 304.6 160.35 304.45 161.3 304.6C162.25 304.75 163.17 304.97 164.1 305.5C165.03 306.03 166.05 307.15 166.9 307.8C167.75 308.45 168.25 309.08 169.2 309.4C170.15 309.72 171.55 309.8 172.6 309.7C173.65 309.6 174.53 309.05 175.5 308.8C176.47 308.55 177.45 308.37 178.4 308.2C179.35 308.03 180.25 307.8 181.2 307.8C182.15 307.8 183.13 308.25 184.1 308.2C185.07 308.15 186.05 307.68 187 307.5C187.95 307.32 188.85 307.17 189.8 307.1C190.75 307.03 191.8 306.98 192.7 307.1C193.6 307.22 194.47 307.33 195.2 307.8C195.93 308.27 196.47 309.55 197.1 309.9C197.73 310.25 198.3 310.12 199 309.9C199.7 309.68 200.6 308.68 201.3 308.6C202 308.52 202.5 309.18 203.2 309.4C203.9 309.62 204.7 309.87 205.5 309.9C206.3 309.93 207.12 309.75 208 309.6C208.88 309.45 209.85 309.03 210.8 309C211.75 308.97 212.75 309.43 213.7 309.4C214.65 309.37 215.55 309.07 216.5 308.8C217.45 308.53 218.43 307.97 219.4 307.8C220.37 307.63 221.43 307.6 222.3 307.8C223.17 308 223.82 308.48 224.6 309C225.38 309.52 226.12 310.33 227 310.9C227.88 311.47 228.93 312.02 229.9 312.4C230.87 312.78 231.78 312.95 232.8 313.2C233.82 313.45 234.88 313.8 236 313.9C237.12 314 238.45 313.92 239.5 313.8C240.55 313.68 241.35 313.3 242.3 313.2C243.25 313.1 244.33 313.3 245.2 313.2C246.07 313.1 246.7 312.6 247.5 312.6C248.3 312.6 249.12 313.17 250 313.2C250.88 313.23 251.85 312.9 252.8 312.8C253.75 312.7 254.75 312.85 255.7 312.6C256.65 312.35 257.65 311.52 258.5 311.3C259.35 311.08 260 311.43 260.8 311.3C261.6 311.17 262.4 310.82 263.3 310.5C264.2 310.18 265.35 309.68 266.2 309.4C267.05 309.12 268.03 308.9 268.4 308.8" stroke="#0072bd" stroke-width="2.0" fill="none" stroke-linejoin="round" stroke-linecap="round" clip-path="url(#c4)"/>
<rect x="63.5" y="276.4" width="205.0" height="62.80000000000001" fill="none" stroke="#bdbdbd" stroke-width="1"/>
<path d="M63.5 339.2v-2M63.5 276.4v2M120.44 339.2v-2M120.44 276.4v2M177.39 339.2v-2M177.39 276.4v2M234.33 339.2v-2M234.33 276.4v2M63.5 337.8h2M268.5 337.8h-2M63.5 308.3h2M268.5 308.3h-2M63.5 278.8h2M268.5 278.8h-2" stroke="#9a9a9a" stroke-width="0.8" fill="none"/>
<text x="63.5" y="356.5" font-size="12.6" fill="#262626" text-anchor="middle">0</text>
<text x="120.44" y="356.5" font-size="12.6" fill="#262626" text-anchor="middle">200</text>
<text x="177.39" y="356.5" font-size="12.6" fill="#262626" text-anchor="middle">400</text>
<text x="234.33" y="356.5" font-size="12.6" fill="#262626" text-anchor="middle">600</text>
<text x="59.2" y="342.85" font-size="12.6" fill="#262626" text-anchor="end">49.8</text>
<text x="59.2" y="313.35" font-size="12.6" fill="#262626" text-anchor="end">50</text>
<text x="59.2" y="283.85" font-size="12.6" fill="#262626" text-anchor="end">50.2</text>
<text x="166" y="271.45" font-size="14.2" font-weight="bold" fill="#000" text-anchor="middle">Grid Location: Tenerife</text>
<text x="166" y="374.1" font-size="14.0" fill="#262626" text-anchor="middle">Time (s)</text>
<text transform="translate(28.61,307.8) rotate(-90)" x="0" y="0" font-size="14.0" fill="#262626" text-anchor="middle">ENF Values (Hz)</text>
<path d="M343.63 276.4V339.2M352.19 276.4V339.2M360.75 276.4V339.2M369.31 276.4V339.2M377.87 276.4V339.2M386.43 276.4V339.2M394.99 276.4V339.2M403.55 276.4V339.2M412.11 276.4V339.2M420.67 276.4V339.2M429.23 276.4V339.2M437.79 276.4V339.2M446.35 276.4V339.2M454.91 276.4V339.2M463.46 276.4V339.2M472.02 276.4V339.2M480.58 276.4V339.2M489.14 276.4V339.2M497.7 276.4V339.2M506.26 276.4V339.2M514.82 276.4V339.2M523.38 276.4V339.2M531.94 276.4V339.2M335.5 335H540.5M335.5 328.4H540.5M335.5 321.8H540.5M335.5 315.2H540.5M335.5 308.6H540.5M335.5 302H540.5M335.5 295.4H540.5M335.5 288.8H540.5M335.5 282.2H540.5" stroke="#e6e6e6" stroke-width="0.7" stroke-dasharray="2.5 1" fill="none"/>
<clipPath id="c5"><rect x="335.5" y="276.4" width="205.0" height="62.80000000000001"/></clipPath>
<path d="M335.5 292.9C335.7 292.15 336.2 290.07 336.7 288.4C337.2 286.73 337.88 284.42 338.5 282.9C339.12 281.38 339.7 280.27 340.4 279.3C341.1 278.33 341.95 277.65 342.7 277.1C343.45 276.55 344.17 276.1 344.9 276C345.63 275.9 346.33 276.1 347.1 276.5C347.87 276.9 348.72 277.7 349.5 278.4C350.28 279.1 351.12 280.1 351.8 280.7C352.48 281.3 352.98 282.18 353.6 282C354.22 281.82 354.88 280.12 355.5 279.6C356.12 279.08 356.7 278.5 357.3 278.9C357.9 279.3 358.5 280.73 359.1 282C359.7 283.27 360.23 285.13 360.9 286.5C361.57 287.87 362.37 288.98 363.1 290.2C363.83 291.42 364.63 292.43 365.3 293.8C365.97 295.17 366.5 296.58 367.1 298.4C367.7 300.22 368.35 302.73 368.9 304.7C369.45 306.67 369.92 308.23 370.4 310.2C370.88 312.17 371.27 314.45 371.8 316.5C372.33 318.55 372.98 320.98 373.6 322.5C374.22 324.02 374.88 324.68 375.5 325.6C376.12 326.52 376.7 327.08 377.3 328C377.9 328.92 378.43 330.18 379.1 331.1C379.77 332.02 380.57 332.9 381.3 333.5C382.03 334.1 382.83 334.2 383.5 334.7C384.17 335.2 384.7 335.88 385.3 336.5C385.9 337.12 386.4 338 387.1 338.4C387.8 338.8 388.72 338.9 389.5 338.9C390.28 338.9 391.05 338.48 391.8 338.4C392.55 338.32 393.33 338.55 394 338.4C394.67 338.25 395.2 337.6 395.8 337.5C396.4 337.4 396.93 337.65 397.6 337.8C398.27 337.95 399.03 338.4 399.8 338.4C400.57 338.4 401.47 338.02 402.2 337.8C402.93 337.58 403.57 337.52 404.2 337.1C404.83 336.68 405.4 336.08 406 335.3C406.6 334.52 407.1 333.5 407.8 332.4C408.5 331.3 409.42 329.73 410.2 328.7C410.98 327.67 411.8 327.02 412.5 326.2C413.2 325.38 413.78 324.9 414.4 323.8C415.02 322.7 415.6 320.97 416.2 319.6C416.8 318.23 417.4 316.72 418 315.6C418.6 314.48 419.13 313.5 419.8 312.9C420.47 312.3 421.27 312.22 422 312C422.73 311.78 423.45 311.97 424.2 311.6C424.95 311.23 425.72 310.48 426.5 309.8C427.28 309.12 428.13 308.35 428.9 307.5C429.67 306.65 430.37 305.53 431.1 304.7C431.83 303.87 432.55 303.1 433.3 302.5C434.05 301.9 434.82 301.33 435.6 301.1C436.38 300.87 437.23 301.25 438 301.1C438.77 300.95 439.47 300.63 440.2 300.2C440.93 299.77 441.73 298.65 442.4 298.5C443.07 298.35 443.6 298.93 444.2 299.3C444.8 299.67 445.3 300.47 446 300.7C446.7 300.93 447.7 300.63 448.4 300.7C449.1 300.77 449.6 300.58 450.2 301.1C450.8 301.62 451.4 302.73 452 303.8C452.6 304.87 453.2 306.43 453.8 307.5C454.4 308.57 454.98 309.7 455.6 310.2C456.22 310.7 456.8 310.05 457.5 310.5C458.2 310.95 459.05 311.98 459.8 312.9C460.55 313.82 461.27 315 462 316C462.73 317 463.53 318.05 464.2 318.9C464.87 319.75 465.4 320.58 466 321.1C466.6 321.62 467.2 322 467.8 322C468.4 322 468.93 321.7 469.6 321.1C470.27 320.5 471.13 319.07 471.8 318.4C472.47 317.73 472.93 317.25 473.6 317.1C474.27 316.95 475.03 317.43 475.8 317.5C476.57 317.57 477.5 317.82 478.2 317.5C478.9 317.18 479.4 316.45 480 315.6C480.6 314.75 481.1 313.75 481.8 312.4C482.5 311.05 483.5 309.08 484.2 307.5C484.9 305.92 485.4 304.57 486 302.9C486.6 301.23 487.2 299.07 487.8 297.5C488.4 295.93 488.98 294.42 489.6 293.5C490.22 292.58 490.88 292 491.5 292C492.12 292 492.7 292.95 493.3 293.5C493.9 294.05 494.43 294.8 495.1 295.3C495.77 295.8 496.63 296.5 497.3 296.5C497.97 296.5 498.5 295.68 499.1 295.3C499.7 294.92 500.3 294.3 500.9 294.2C501.5 294.1 502.03 294.52 502.7 294.7C503.37 294.88 504.13 295.3 504.9 295.3C505.67 295.3 506.6 295.1 507.3 294.7C508 294.3 508.4 293.6 509.1 292.9C509.8 292.2 510.75 290.9 511.5 290.5C512.25 290.1 512.88 290.4 513.6 290.5C514.32 290.6 515.03 291 515.8 291.1C516.57 291.2 517.5 291.4 518.2 291.1C518.9 290.8 519.4 290.37 520 289.3C520.6 288.23 521.2 286 521.8 284.7C522.4 283.4 522.98 282.17 523.6 281.5C524.22 280.83 524.88 280.62 525.5 280.7C526.12 280.78 526.7 281.48 527.3 282C527.9 282.52 528.5 283.1 529.1 283.8C529.7 284.5 530.3 285.5 530.9 286.2C531.5 286.9 532.1 287.63 532.7 288C533.3 288.37 533.88 288.48 534.5 288.4C535.12 288.32 535.78 287.87 536.4 287.5C537.02 287.13 537.52 286.72 538.2 286.2C538.88 285.68 540.12 284.7 540.5 284.4" stroke="#0072bd" stroke-width="2.0" fill="none" stroke-linejoin="round" stroke-linecap="round" clip-path="url(#c5)"/>
<rect x="335.5" y="276.4" width="205.0" height="62.80000000000001" fill="none" stroke="#bdbdbd" stroke-width="1"/>
<path d="M377.87 339.2v-2M377.87 276.4v2M420.67 339.2v-2M420.67 276.4v2M463.46 339.2v-2M463.46 276.4v2M506.26 339.2v-2M506.26 276.4v2M335.5 328.4h2M540.5 328.4h-2M335.5 302h2M540.5 302h-2" stroke="#9a9a9a" stroke-width="0.8" fill="none"/>
<text x="377.87" y="356.5" font-size="12.6" fill="#262626" text-anchor="middle">100</text>
<text x="420.67" y="356.5" font-size="12.6" fill="#262626" text-anchor="middle">200</text>
<text x="463.46" y="356.5" font-size="12.6" fill="#262626" text-anchor="middle">300</text>
<text x="506.26" y="356.5" font-size="12.6" fill="#262626" text-anchor="middle">400</text>
<text x="331.2" y="333.45" font-size="12.6" fill="#262626" text-anchor="end">49.8</text>
<text x="331.2" y="307.05" font-size="12.6" fill="#262626" text-anchor="end">50</text>
<text x="438" y="271.45" font-size="14.2" font-weight="bold" fill="#000" text-anchor="middle">Grid Location: India</text>
<text x="438" y="374.1" font-size="14.0" fill="#262626" text-anchor="middle">Time (s)</text>
<text transform="translate(300.61,307.8) rotate(-90)" x="0" y="0" font-size="14.0" fill="#262626" text-anchor="middle">ENF Values (Hz)</text>
</svg></body></html>
